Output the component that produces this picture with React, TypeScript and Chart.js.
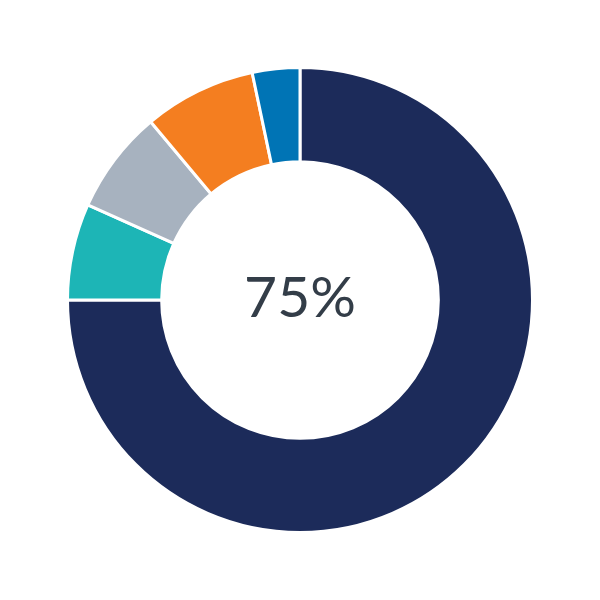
import React, { useEffect, useRef } from "react";
import { Chart, registerables } from "chart.js";

Chart.register(...registerables);

const labels = ["Navy", "Teal", "Gray", "Orange", "Blue"];
const values = [75, 6.7, 7.2, 7.8, 3.3];
const colors = ["#1c2b5a", "#1db5b6", "#a7b2bf", "#f47e20", "#0074b5"];
const centerLabel = "75%";

const centerText = {
  id: "centerText",
  afterDraw(chart: any) {
    const { ctx, chartArea } = chart;
    const cx = (chartArea.left + chartArea.right) / 2;
    const cy = (chartArea.top + chartArea.bottom) / 2;
    ctx.save();
    ctx.font = "400 57px Lato";
    ctx.fillStyle = "#333d48";
    ctx.textAlign = "center";
    ctx.textBaseline = "alphabetic";
    ctx.fillText(centerLabel, cx, cy + 17);
    ctx.restore();
  },
};

export default function App() {
  const ref = useRef<HTMLCanvasElement>(null);
  useEffect(() => {
    const chart = new Chart(ref.current!, {
      type: "doughnut",
      data: {
        labels,
        datasets: [
          {
            data: values,
            backgroundColor: colors,
            borderColor: "#ffffff",
            borderWidth: 3,
            hoverOffset: 0,
          },
        ],
      },
      options: {
        responsive: false,
        animation: false,
        cutout: "59.5%",
        layout: { padding: 66 },
        plugins: { legend: { display: false }, tooltip: { enabled: false } },
      },
      plugins: [centerText],
    });
    return () => chart.destroy();
  }, []);
  return (
    <div style={{ position: "fixed", left: 0, top: 0, width: 600, height: 600, background: "#fff" }}>
      <canvas ref={ref} width={600} height={600} style={{ width: 600, height: 600 }} />
    </div>
  );
}
